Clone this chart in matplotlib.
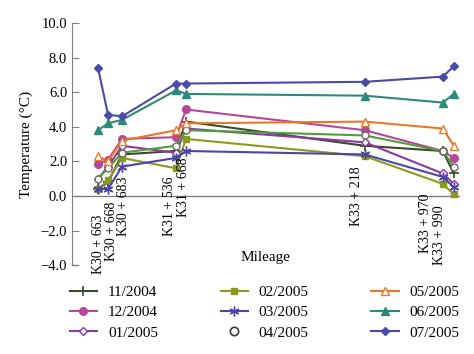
import matplotlib
matplotlib.use("Agg")
import matplotlib.pyplot as plt
from matplotlib.lines import Line2D

plt.rcParams['font.family'] = ['Liberation Serif', 'DejaVu Serif']
plt.rcParams['axes.unicode_minus'] = True

# Mileage stations and their horizontal positions on the chart
stations = ["K30 + 663", "K30 + 668", "K30 + 683", "K31 + 536",
            "K31 + 668", "K33 + 218", "K33 + 970", "K33 + 990"]
station_x = [26, 36, 50, 104, 114, 293, 371, 382]

# Temperature (degC) per month
t_1104 = [0.4, 0.8, 2.4, 2.6, 4.3, 2.9, 2.6, 1.3]
t_1204 = [1.85, 2.1, 3.3, 3.4, 5.0, 3.8, 2.6, 2.2]
t_0105 = [1.0, 1.7, 2.9, 2.5, 3.9, 3.1, 1.3, 0.7]
t_0205 = [0.4, 0.9, 2.2, 1.6, 3.3, 2.3, 0.7, 0.1]
t_0305 = [0.4, 0.4, 1.7, 2.2, 2.6, 2.4, 1.1, 0.5]
t_0405 = [1.0, 1.6, 2.5, 2.9, 3.8, 3.5, 2.6, 1.7]
t_0505 = [2.3, 2.0, 3.2, 3.8, 4.2, 4.3, 3.9, 2.9]
t_0605 = [3.8, 4.2, 4.4, 6.1, 5.9, 5.8, 5.4, 5.9]
t_0705 = [7.4, 4.7, 4.6, 6.5, 6.5, 6.6, 6.9, 7.5]

fig = plt.figure(figsize=(4.74, 3.54), dpi=100)
ax = fig.add_axes([0.152, 0.251, 0.818, 0.684])

series = [
    ("11/2004", t_1104, dict(color='#3b4a2a', marker='+', ms=7, mew=1.2)),
    ("12/2004", t_1204, dict(color='#b5479b', marker='o', ms=5.5)),
    ("01/2005", t_0105, dict(color='#8b3a9e', marker='D', ms=4.5, mfc='white')),
    ("02/2005", t_0205, dict(color='#8c9a1c', marker='s', ms=4.5)),
    ("03/2005", t_0305, dict(color='#4b45a8', marker=(6, 2, 0), ms=7, mew=1.0)),
    ("04/2005", t_0405, dict(color='#4f9e3a', marker='o', ms=5, mfc='white', mec='#6a6a5a')),
    ("05/2005", t_0505, dict(color='#e8772a', marker='^', ms=6, mfc='white')),
    ("06/2005", t_0605, dict(color='#2e8a78', marker='^', ms=6)),
    ("07/2005", t_0705, dict(color='#4a4aa8', marker='D', ms=4.5)),
]

handles = []
for name, vals, st in series:
    ax.plot(station_x, vals, lw=1.5, **st)
    if name == "04/2005":
        h = Line2D([], [], ls='none', marker='o', ms=6, mfc='white', mec='#2f3f2f', mew=1.2)
    else:
        h = Line2D([], [], lw=1.5, **st)
    handles.append(h)

ax.set_xlim(0, 388)
ax.set_ylim(-4, 10)
ax.set_yticks([-4, -2, 0, 2, 4, 6, 8, 10])
ax.set_yticklabels(["\u22124.0", "\u22122.0", "0.0", "2.0", "4.0", "6.0", "8.0", "10.0"])
ax.set_xticks([])
for s in ['top', 'right', 'bottom']:
    ax.spines[s].set_visible(False)
ax.spines['left'].set_color('#808080')
ax.tick_params(axis='y', direction='in', length=5, color='#808080', labelsize=10.5)
ax.axhline(0, color='#808080', lw=1.0, zorder=0)
ax.plot([0, 5], [-4, -4], color='#808080', lw=1.0, clip_on=False)

# vertical station labels, staggered as in the original
label_top = [-1.1, -0.35, 1.1, 1.1, 2.2, 1.7, 0.17, -0.52]
label_x = [26, 39, 51, 98, 112, 285, 354, 368]
for lx, ly, txt in zip(label_x, label_top, stations):
    ax.text(lx, ly, txt, rotation=90, ha='center', va='top', fontsize=10)

ax.set_ylabel("Temperature (\u00b0C)", fontsize=11)
ax.yaxis.set_label_coords(-0.1, 0.5)
ax.text(194, -3.55, "Mileage", ha='center', va='center', fontsize=11)

fig.legend(handles, [s[0] for s in series], ncol=3, loc='upper left',
           bbox_to_anchor=(0.118, 0.232), frameon=False, fontsize=11,
           handlelength=1.8, handletextpad=0.7, columnspacing=4.1,
           labelspacing=0.42)

fig.savefig("out.png", dpi=100)
